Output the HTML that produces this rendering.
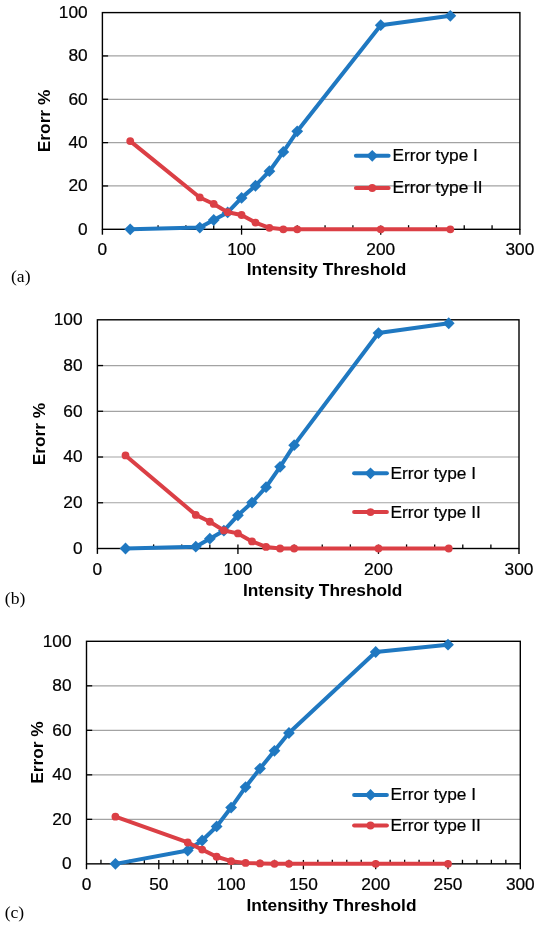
<!DOCTYPE html>
<html><head><meta charset="utf-8"><title>Error vs Intensity Threshold</title>
<style>
html,body{margin:0;padding:0;background:#fff;}
body{width:550px;height:926px;overflow:hidden;}
svg{display:block;}
.t{font-family:"Liberation Sans",Arial,sans-serif;font-size:17.3px;fill:#000;stroke:#000;stroke-width:0.22px;}
.b{font-family:"Liberation Sans",Arial,sans-serif;font-size:17.3px;font-weight:bold;fill:#000;}
.s{font-family:"Liberation Serif","Times New Roman",serif;font-size:17.6px;fill:#000;}
</style></head>
<body>
<svg width="550" height="926" viewBox="0 0 550 926">
<rect width="550" height="926" fill="#fff"/>
<g>
<line x1="102.4" y1="185.96" x2="519.9" y2="185.96" stroke="#a3a3a3" stroke-width="1.2"/>
<line x1="102.4" y1="142.62" x2="519.9" y2="142.62" stroke="#a3a3a3" stroke-width="1.2"/>
<line x1="102.4" y1="99.28" x2="519.9" y2="99.28" stroke="#a3a3a3" stroke-width="1.2"/>
<line x1="102.4" y1="55.94" x2="519.9" y2="55.94" stroke="#a3a3a3" stroke-width="1.2"/>
<line x1="102.4" y1="185.96" x2="108.1" y2="185.96" stroke="#000" stroke-width="1.3"/>
<line x1="102.4" y1="142.62" x2="108.1" y2="142.62" stroke="#000" stroke-width="1.3"/>
<line x1="102.4" y1="99.28" x2="108.1" y2="99.28" stroke="#000" stroke-width="1.3"/>
<line x1="102.4" y1="55.94" x2="108.1" y2="55.94" stroke="#000" stroke-width="1.3"/>
<line x1="102.4" y1="229.3" x2="102.4" y2="234.7" stroke="#000" stroke-width="1.4"/>
<line x1="130.23" y1="225.2" x2="130.23" y2="229.3" stroke="#000" stroke-width="1.3"/>
<line x1="158.07" y1="225.2" x2="158.07" y2="229.3" stroke="#000" stroke-width="1.3"/>
<line x1="185.9" y1="225.2" x2="185.9" y2="229.3" stroke="#000" stroke-width="1.3"/>
<line x1="213.73" y1="225.2" x2="213.73" y2="229.3" stroke="#000" stroke-width="1.3"/>
<line x1="241.57" y1="225.4" x2="241.57" y2="234.7" stroke="#000" stroke-width="1.3"/>
<line x1="269.4" y1="225.2" x2="269.4" y2="229.3" stroke="#000" stroke-width="1.3"/>
<line x1="297.23" y1="225.2" x2="297.23" y2="229.3" stroke="#000" stroke-width="1.3"/>
<line x1="325.07" y1="225.2" x2="325.07" y2="229.3" stroke="#000" stroke-width="1.3"/>
<line x1="352.9" y1="225.2" x2="352.9" y2="229.3" stroke="#000" stroke-width="1.3"/>
<line x1="380.73" y1="225.4" x2="380.73" y2="234.7" stroke="#000" stroke-width="1.3"/>
<line x1="408.57" y1="225.2" x2="408.57" y2="229.3" stroke="#000" stroke-width="1.3"/>
<line x1="436.4" y1="225.2" x2="436.4" y2="229.3" stroke="#000" stroke-width="1.3"/>
<line x1="464.23" y1="225.2" x2="464.23" y2="229.3" stroke="#000" stroke-width="1.3"/>
<line x1="492.07" y1="225.2" x2="492.07" y2="229.3" stroke="#000" stroke-width="1.3"/>
<line x1="519.9" y1="229.3" x2="519.9" y2="234.7" stroke="#000" stroke-width="1.4"/>
<rect x="102.4" y="12.6" width="417.5" height="216.7" fill="none" stroke="#000" stroke-width="1.4"/>
<text x="87.7" y="234.7" text-anchor="end" class="t">0</text>
<text x="87.7" y="191.36" text-anchor="end" class="t">20</text>
<text x="87.7" y="148.02" text-anchor="end" class="t">40</text>
<text x="87.7" y="104.68" text-anchor="end" class="t">60</text>
<text x="87.7" y="61.34" text-anchor="end" class="t">80</text>
<text x="87.7" y="18" text-anchor="end" class="t">100</text>
<text x="102.4" y="255.4" text-anchor="middle" class="t">0</text>
<text x="241.57" y="255.4" text-anchor="middle" class="t">100</text>
<text x="380.73" y="255.4" text-anchor="middle" class="t">200</text>
<text x="519.9" y="255.4" text-anchor="middle" class="t">300</text>
<text transform="translate(50.3 120.95) rotate(-90)" text-anchor="middle" class="b">Erorr %</text>
<text x="246.8" y="274.9" class="b">Intensity Threshold</text>
<polyline points="130.23,229.3 199.82,227.57 213.73,219.98 227.65,212.4 241.57,197.88 255.48,185.74 269.4,171.22 283.32,151.94 297.23,131.35 380.73,25.17 450.32,15.85" fill="none" stroke="#1f78c1" stroke-width="4.0" stroke-linejoin="round" stroke-linecap="round"/>
<path d="M130.23 223.4L136.13 229.3L130.23 235.2L124.33 229.3Z" fill="#1f78c1"/>
<path d="M199.82 221.67L205.72 227.57L199.82 233.47L193.92 227.57Z" fill="#1f78c1"/>
<path d="M213.73 214.08L219.63 219.98L213.73 225.88L207.83 219.98Z" fill="#1f78c1"/>
<path d="M227.65 206.5L233.55 212.4L227.65 218.3L221.75 212.4Z" fill="#1f78c1"/>
<path d="M241.57 191.98L247.47 197.88L241.57 203.78L235.67 197.88Z" fill="#1f78c1"/>
<path d="M255.48 179.84L261.38 185.74L255.48 191.64L249.58 185.74Z" fill="#1f78c1"/>
<path d="M269.4 165.32L275.3 171.22L269.4 177.12L263.5 171.22Z" fill="#1f78c1"/>
<path d="M283.32 146.04L289.22 151.94L283.32 157.84L277.42 151.94Z" fill="#1f78c1"/>
<path d="M297.23 125.45L303.13 131.35L297.23 137.25L291.33 131.35Z" fill="#1f78c1"/>
<path d="M380.73 19.27L386.63 25.17L380.73 31.07L374.83 25.17Z" fill="#1f78c1"/>
<path d="M450.32 9.95L456.22 15.85L450.32 21.75L444.42 15.85Z" fill="#1f78c1"/>
<polyline points="130.23,141.1 199.82,197.45 213.73,203.95 227.65,212.18 241.57,215 255.48,222.58 269.4,227.78 283.32,229.3 297.23,229.3 380.73,229.3 450.32,229.3" fill="none" stroke="#db3f45" stroke-width="4.0" stroke-linejoin="round" stroke-linecap="round"/>
<circle cx="130.23" cy="141.1" r="3.9" fill="#db3f45"/>
<circle cx="199.82" cy="197.45" r="3.9" fill="#db3f45"/>
<circle cx="213.73" cy="203.95" r="3.9" fill="#db3f45"/>
<circle cx="227.65" cy="212.18" r="3.9" fill="#db3f45"/>
<circle cx="241.57" cy="215" r="3.9" fill="#db3f45"/>
<circle cx="255.48" cy="222.58" r="3.9" fill="#db3f45"/>
<circle cx="269.4" cy="227.78" r="3.9" fill="#db3f45"/>
<circle cx="283.32" cy="229.3" r="3.9" fill="#db3f45"/>
<circle cx="297.23" cy="229.3" r="3.9" fill="#db3f45"/>
<circle cx="380.73" cy="229.3" r="3.9" fill="#db3f45"/>
<circle cx="450.32" cy="229.3" r="3.9" fill="#db3f45"/>
<line x1="355.9" y1="155.8" x2="388.6" y2="155.8" stroke="#1f78c1" stroke-width="4.0" stroke-linecap="round"/>
<path d="M372.25 149.9L378.15 155.8L372.25 161.7L366.35 155.8Z" fill="#1f78c1"/>
<text x="392.4" y="161.1" class="t">Error type I</text>
<line x1="355.9" y1="188" x2="388.6" y2="188" stroke="#db3f45" stroke-width="4.0" stroke-linecap="round"/>
<circle cx="372.25" cy="188" r="3.9" fill="#db3f45"/>
<text x="392.4" y="193.1" class="t">Error type II</text>
<text x="11" y="281.5" class="s">(a)</text>
</g>
<g>
<line x1="97.4" y1="502.76" x2="519" y2="502.76" stroke="#a3a3a3" stroke-width="1.2"/>
<line x1="97.4" y1="457.02" x2="519" y2="457.02" stroke="#a3a3a3" stroke-width="1.2"/>
<line x1="97.4" y1="411.28" x2="519" y2="411.28" stroke="#a3a3a3" stroke-width="1.2"/>
<line x1="97.4" y1="365.54" x2="519" y2="365.54" stroke="#a3a3a3" stroke-width="1.2"/>
<line x1="97.4" y1="502.76" x2="103.1" y2="502.76" stroke="#000" stroke-width="1.3"/>
<line x1="97.4" y1="457.02" x2="103.1" y2="457.02" stroke="#000" stroke-width="1.3"/>
<line x1="97.4" y1="411.28" x2="103.1" y2="411.28" stroke="#000" stroke-width="1.3"/>
<line x1="97.4" y1="365.54" x2="103.1" y2="365.54" stroke="#000" stroke-width="1.3"/>
<line x1="97.4" y1="548.5" x2="97.4" y2="553.9" stroke="#000" stroke-width="1.4"/>
<line x1="125.51" y1="544.4" x2="125.51" y2="548.5" stroke="#000" stroke-width="1.3"/>
<line x1="153.61" y1="544.4" x2="153.61" y2="548.5" stroke="#000" stroke-width="1.3"/>
<line x1="181.72" y1="544.4" x2="181.72" y2="548.5" stroke="#000" stroke-width="1.3"/>
<line x1="209.83" y1="544.4" x2="209.83" y2="548.5" stroke="#000" stroke-width="1.3"/>
<line x1="237.93" y1="544.6" x2="237.93" y2="553.9" stroke="#000" stroke-width="1.3"/>
<line x1="266.04" y1="544.4" x2="266.04" y2="548.5" stroke="#000" stroke-width="1.3"/>
<line x1="294.15" y1="544.4" x2="294.15" y2="548.5" stroke="#000" stroke-width="1.3"/>
<line x1="322.25" y1="544.4" x2="322.25" y2="548.5" stroke="#000" stroke-width="1.3"/>
<line x1="350.36" y1="544.4" x2="350.36" y2="548.5" stroke="#000" stroke-width="1.3"/>
<line x1="378.47" y1="544.6" x2="378.47" y2="553.9" stroke="#000" stroke-width="1.3"/>
<line x1="406.57" y1="544.4" x2="406.57" y2="548.5" stroke="#000" stroke-width="1.3"/>
<line x1="434.68" y1="544.4" x2="434.68" y2="548.5" stroke="#000" stroke-width="1.3"/>
<line x1="462.79" y1="544.4" x2="462.79" y2="548.5" stroke="#000" stroke-width="1.3"/>
<line x1="490.89" y1="544.4" x2="490.89" y2="548.5" stroke="#000" stroke-width="1.3"/>
<line x1="519" y1="548.5" x2="519" y2="553.9" stroke="#000" stroke-width="1.4"/>
<rect x="97.4" y="319.8" width="421.6" height="228.7" fill="none" stroke="#000" stroke-width="1.4"/>
<text x="82.5" y="553.9" text-anchor="end" class="t">0</text>
<text x="82.5" y="508.16" text-anchor="end" class="t">20</text>
<text x="82.5" y="462.42" text-anchor="end" class="t">40</text>
<text x="82.5" y="416.68" text-anchor="end" class="t">60</text>
<text x="82.5" y="370.94" text-anchor="end" class="t">80</text>
<text x="82.5" y="325.2" text-anchor="end" class="t">100</text>
<text x="97.4" y="574.5" text-anchor="middle" class="t">0</text>
<text x="237.93" y="574.5" text-anchor="middle" class="t">100</text>
<text x="378.47" y="574.5" text-anchor="middle" class="t">200</text>
<text x="519" y="574.5" text-anchor="middle" class="t">300</text>
<text transform="translate(45 434.15) rotate(-90)" text-anchor="middle" class="b">Erorr %</text>
<text x="243" y="595.5" class="b">Intensity Threshold</text>
<polyline points="125.51,548.5 195.77,546.67 209.83,538.67 223.88,530.66 237.93,515.34 251.99,502.53 266.04,487.21 280.09,466.85 294.15,445.13 378.47,333.06 448.73,323.23" fill="none" stroke="#1f78c1" stroke-width="4.0" stroke-linejoin="round" stroke-linecap="round"/>
<path d="M125.51 542.6L131.41 548.5L125.51 554.4L119.61 548.5Z" fill="#1f78c1"/>
<path d="M195.77 540.77L201.67 546.67L195.77 552.57L189.87 546.67Z" fill="#1f78c1"/>
<path d="M209.83 532.77L215.73 538.67L209.83 544.57L203.93 538.67Z" fill="#1f78c1"/>
<path d="M223.88 524.76L229.78 530.66L223.88 536.56L217.98 530.66Z" fill="#1f78c1"/>
<path d="M237.93 509.44L243.83 515.34L237.93 521.24L232.03 515.34Z" fill="#1f78c1"/>
<path d="M251.99 496.63L257.89 502.53L251.99 508.43L246.09 502.53Z" fill="#1f78c1"/>
<path d="M266.04 481.31L271.94 487.21L266.04 493.11L260.14 487.21Z" fill="#1f78c1"/>
<path d="M280.09 460.95L285.99 466.85L280.09 472.75L274.19 466.85Z" fill="#1f78c1"/>
<path d="M294.15 439.23L300.05 445.13L294.15 451.03L288.25 445.13Z" fill="#1f78c1"/>
<path d="M378.47 327.16L384.37 333.06L378.47 338.96L372.57 333.06Z" fill="#1f78c1"/>
<path d="M448.73 317.33L454.63 323.23L448.73 329.13L442.83 323.23Z" fill="#1f78c1"/>
<polyline points="125.51,455.42 195.77,514.88 209.83,521.74 223.88,530.43 237.93,533.41 251.99,541.41 266.04,546.9 280.09,548.5 294.15,548.5 378.47,548.5 448.73,548.5" fill="none" stroke="#db3f45" stroke-width="4.0" stroke-linejoin="round" stroke-linecap="round"/>
<circle cx="125.51" cy="455.42" r="3.9" fill="#db3f45"/>
<circle cx="195.77" cy="514.88" r="3.9" fill="#db3f45"/>
<circle cx="209.83" cy="521.74" r="3.9" fill="#db3f45"/>
<circle cx="223.88" cy="530.43" r="3.9" fill="#db3f45"/>
<circle cx="237.93" cy="533.41" r="3.9" fill="#db3f45"/>
<circle cx="251.99" cy="541.41" r="3.9" fill="#db3f45"/>
<circle cx="266.04" cy="546.9" r="3.9" fill="#db3f45"/>
<circle cx="280.09" cy="548.5" r="3.9" fill="#db3f45"/>
<circle cx="294.15" cy="548.5" r="3.9" fill="#db3f45"/>
<circle cx="378.47" cy="548.5" r="3.9" fill="#db3f45"/>
<circle cx="448.73" cy="548.5" r="3.9" fill="#db3f45"/>
<line x1="354.1" y1="473.3" x2="386.9" y2="473.3" stroke="#1f78c1" stroke-width="4.0" stroke-linecap="round"/>
<path d="M370.5 467.4L376.4 473.3L370.5 479.2L364.6 473.3Z" fill="#1f78c1"/>
<text x="390.5" y="478.8" class="t">Error type I</text>
<line x1="354.1" y1="512.1" x2="386.9" y2="512.1" stroke="#db3f45" stroke-width="4.0" stroke-linecap="round"/>
<circle cx="370.5" cy="512.1" r="3.9" fill="#db3f45"/>
<text x="390.5" y="517.7" class="t">Error type II</text>
<text x="4.8" y="603.8" class="s">(b)</text>
</g>
<g>
<line x1="86.5" y1="819.34" x2="520.3" y2="819.34" stroke="#a3a3a3" stroke-width="1.2"/>
<line x1="86.5" y1="774.83" x2="520.3" y2="774.83" stroke="#a3a3a3" stroke-width="1.2"/>
<line x1="86.5" y1="730.32" x2="520.3" y2="730.32" stroke="#a3a3a3" stroke-width="1.2"/>
<line x1="86.5" y1="685.81" x2="520.3" y2="685.81" stroke="#a3a3a3" stroke-width="1.2"/>
<line x1="86.5" y1="819.34" x2="92.2" y2="819.34" stroke="#000" stroke-width="1.3"/>
<line x1="86.5" y1="774.83" x2="92.2" y2="774.83" stroke="#000" stroke-width="1.3"/>
<line x1="86.5" y1="730.32" x2="92.2" y2="730.32" stroke="#000" stroke-width="1.3"/>
<line x1="86.5" y1="685.81" x2="92.2" y2="685.81" stroke="#000" stroke-width="1.3"/>
<line x1="86.5" y1="863.85" x2="86.5" y2="869.25" stroke="#000" stroke-width="1.4"/>
<line x1="100.96" y1="859.75" x2="100.96" y2="863.85" stroke="#000" stroke-width="1.3"/>
<line x1="115.42" y1="859.75" x2="115.42" y2="863.85" stroke="#000" stroke-width="1.3"/>
<line x1="129.88" y1="859.75" x2="129.88" y2="863.85" stroke="#000" stroke-width="1.3"/>
<line x1="144.34" y1="859.75" x2="144.34" y2="863.85" stroke="#000" stroke-width="1.3"/>
<line x1="158.8" y1="859.95" x2="158.8" y2="869.25" stroke="#000" stroke-width="1.3"/>
<line x1="173.26" y1="859.75" x2="173.26" y2="863.85" stroke="#000" stroke-width="1.3"/>
<line x1="187.72" y1="859.75" x2="187.72" y2="863.85" stroke="#000" stroke-width="1.3"/>
<line x1="202.18" y1="859.75" x2="202.18" y2="863.85" stroke="#000" stroke-width="1.3"/>
<line x1="216.64" y1="859.75" x2="216.64" y2="863.85" stroke="#000" stroke-width="1.3"/>
<line x1="231.1" y1="859.95" x2="231.1" y2="869.25" stroke="#000" stroke-width="1.3"/>
<line x1="245.56" y1="859.75" x2="245.56" y2="863.85" stroke="#000" stroke-width="1.3"/>
<line x1="260.02" y1="859.75" x2="260.02" y2="863.85" stroke="#000" stroke-width="1.3"/>
<line x1="274.48" y1="859.75" x2="274.48" y2="863.85" stroke="#000" stroke-width="1.3"/>
<line x1="288.94" y1="859.75" x2="288.94" y2="863.85" stroke="#000" stroke-width="1.3"/>
<line x1="303.4" y1="859.95" x2="303.4" y2="869.25" stroke="#000" stroke-width="1.3"/>
<line x1="317.86" y1="859.75" x2="317.86" y2="863.85" stroke="#000" stroke-width="1.3"/>
<line x1="332.32" y1="859.75" x2="332.32" y2="863.85" stroke="#000" stroke-width="1.3"/>
<line x1="346.78" y1="859.75" x2="346.78" y2="863.85" stroke="#000" stroke-width="1.3"/>
<line x1="361.24" y1="859.75" x2="361.24" y2="863.85" stroke="#000" stroke-width="1.3"/>
<line x1="375.7" y1="859.95" x2="375.7" y2="869.25" stroke="#000" stroke-width="1.3"/>
<line x1="390.16" y1="859.75" x2="390.16" y2="863.85" stroke="#000" stroke-width="1.3"/>
<line x1="404.62" y1="859.75" x2="404.62" y2="863.85" stroke="#000" stroke-width="1.3"/>
<line x1="419.08" y1="859.75" x2="419.08" y2="863.85" stroke="#000" stroke-width="1.3"/>
<line x1="433.54" y1="859.75" x2="433.54" y2="863.85" stroke="#000" stroke-width="1.3"/>
<line x1="448" y1="859.95" x2="448" y2="869.25" stroke="#000" stroke-width="1.3"/>
<line x1="462.46" y1="859.75" x2="462.46" y2="863.85" stroke="#000" stroke-width="1.3"/>
<line x1="476.92" y1="859.75" x2="476.92" y2="863.85" stroke="#000" stroke-width="1.3"/>
<line x1="491.38" y1="859.75" x2="491.38" y2="863.85" stroke="#000" stroke-width="1.3"/>
<line x1="505.84" y1="859.75" x2="505.84" y2="863.85" stroke="#000" stroke-width="1.3"/>
<line x1="520.3" y1="863.85" x2="520.3" y2="869.25" stroke="#000" stroke-width="1.4"/>
<rect x="86.5" y="641.3" width="433.8" height="222.55" fill="none" stroke="#000" stroke-width="1.4"/>
<text x="71.6" y="869.25" text-anchor="end" class="t">0</text>
<text x="71.6" y="824.74" text-anchor="end" class="t">20</text>
<text x="71.6" y="780.23" text-anchor="end" class="t">40</text>
<text x="71.6" y="735.72" text-anchor="end" class="t">60</text>
<text x="71.6" y="691.21" text-anchor="end" class="t">80</text>
<text x="71.6" y="646.7" text-anchor="end" class="t">100</text>
<text x="86.5" y="890.25" text-anchor="middle" class="t">0</text>
<text x="158.8" y="890.25" text-anchor="middle" class="t">50</text>
<text x="231.1" y="890.25" text-anchor="middle" class="t">100</text>
<text x="303.4" y="890.25" text-anchor="middle" class="t">150</text>
<text x="375.7" y="890.25" text-anchor="middle" class="t">200</text>
<text x="448" y="890.25" text-anchor="middle" class="t">250</text>
<text x="520.3" y="890.25" text-anchor="middle" class="t">300</text>
<text transform="translate(42.7 752.58) rotate(-90)" text-anchor="middle" class="b">Error %</text>
<text x="246.5" y="910.8" class="b">Intensithy Threshold</text>
<polyline points="115.42,863.85 187.72,850.5 202.18,840.48 216.64,826.46 231.1,807.54 245.56,787.07 260.02,768.6 274.48,750.79 288.94,732.99 375.7,651.98 448,644.64" fill="none" stroke="#1f78c1" stroke-width="4.0" stroke-linejoin="round" stroke-linecap="round"/>
<path d="M115.42 857.95L121.32 863.85L115.42 869.75L109.52 863.85Z" fill="#1f78c1"/>
<path d="M187.72 844.6L193.62 850.5L187.72 856.4L181.82 850.5Z" fill="#1f78c1"/>
<path d="M202.18 834.58L208.08 840.48L202.18 846.38L196.28 840.48Z" fill="#1f78c1"/>
<path d="M216.64 820.56L222.54 826.46L216.64 832.36L210.74 826.46Z" fill="#1f78c1"/>
<path d="M231.1 801.64L237 807.54L231.1 813.44L225.2 807.54Z" fill="#1f78c1"/>
<path d="M245.56 781.17L251.46 787.07L245.56 792.97L239.66 787.07Z" fill="#1f78c1"/>
<path d="M260.02 762.7L265.92 768.6L260.02 774.5L254.12 768.6Z" fill="#1f78c1"/>
<path d="M274.48 744.89L280.38 750.79L274.48 756.69L268.58 750.79Z" fill="#1f78c1"/>
<path d="M288.94 727.09L294.84 732.99L288.94 738.89L283.04 732.99Z" fill="#1f78c1"/>
<path d="M375.7 646.08L381.6 651.98L375.7 657.88L369.8 651.98Z" fill="#1f78c1"/>
<path d="M448 638.74L453.9 644.64L448 650.54L442.1 644.64Z" fill="#1f78c1"/>
<polyline points="115.42,816.67 187.72,842.49 202.18,849.61 216.64,856.73 231.1,861.18 245.56,862.96 260.02,863.4 274.48,863.85 288.94,863.85 375.7,863.85 448,863.85" fill="none" stroke="#db3f45" stroke-width="4.0" stroke-linejoin="round" stroke-linecap="round"/>
<circle cx="115.42" cy="816.67" r="3.9" fill="#db3f45"/>
<circle cx="187.72" cy="842.49" r="3.9" fill="#db3f45"/>
<circle cx="202.18" cy="849.61" r="3.9" fill="#db3f45"/>
<circle cx="216.64" cy="856.73" r="3.9" fill="#db3f45"/>
<circle cx="231.1" cy="861.18" r="3.9" fill="#db3f45"/>
<circle cx="245.56" cy="862.96" r="3.9" fill="#db3f45"/>
<circle cx="260.02" cy="863.4" r="3.9" fill="#db3f45"/>
<circle cx="274.48" cy="863.85" r="3.9" fill="#db3f45"/>
<circle cx="288.94" cy="863.85" r="3.9" fill="#db3f45"/>
<circle cx="375.7" cy="863.85" r="3.9" fill="#db3f45"/>
<circle cx="448" cy="863.85" r="3.9" fill="#db3f45"/>
<line x1="354.1" y1="794.9" x2="386.9" y2="794.9" stroke="#1f78c1" stroke-width="4.0" stroke-linecap="round"/>
<path d="M370.5 789L376.4 794.9L370.5 800.8L364.6 794.9Z" fill="#1f78c1"/>
<text x="390.5" y="800.3" class="t">Error type I</text>
<line x1="354.1" y1="825.5" x2="386.9" y2="825.5" stroke="#db3f45" stroke-width="4.0" stroke-linecap="round"/>
<circle cx="370.5" cy="825.5" r="3.9" fill="#db3f45"/>
<text x="390.5" y="831.2" class="t">Error type II</text>
<text x="4.7" y="918" class="s">(c)</text>
</g>
</svg>
</body></html>
